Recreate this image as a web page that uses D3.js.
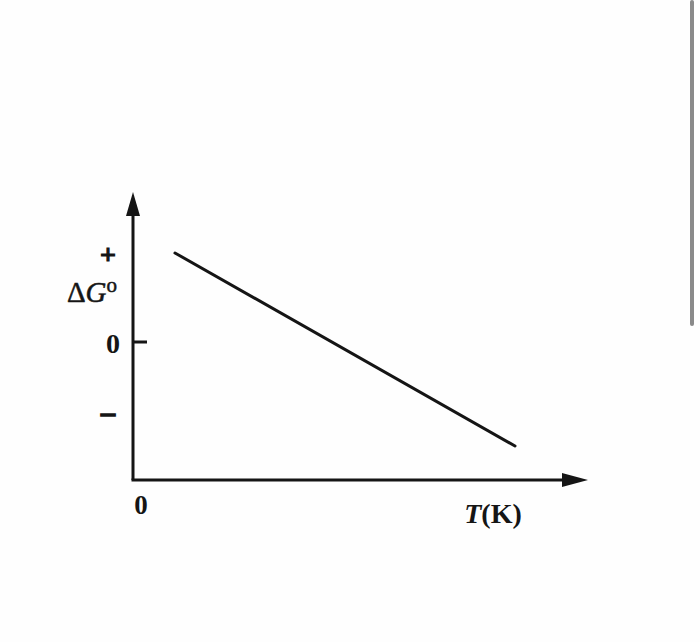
<!DOCTYPE html>
<html><head><meta charset="utf-8">
<script src="https://cdn.jsdelivr.net/npm/d3@7"></script>
<style>html,body{margin:0;padding:0;background:#fff;}svg{display:block;}</style>
</head><body>
<script>
// Data (arbitrary units)
const lineT = [4.2, 38.2];          // temperature at line endpoints
const lineG = [8.9, -10.4];         // ΔG° at line endpoints
const yTickVals = [8.7, 0, -6.9];
const yTickLabels = ["+", "0", "\u2013"];
const xDomain = [0, 45.5];
const yDomain = [-13.8, 15];

const W = 700, H = 642;
const svg = d3.select("body").append("svg").attr("width", W).attr("height", H);
svg.append("rect").attr("width", W).attr("height", H).attr("fill", "#fefefe");

const x = d3.scaleLinear().domain(xDomain).range([133, 588]);
const y = d3.scaleLinear().domain(yDomain).range([480, 192]);
const ink = "#151515";

// gray scrollbar-like bar at right
svg.append("rect").attr("x", 690).attr("y", 0).attr("width", 4).attr("height", 326).attr("rx", 2).attr("fill", "#8a8a8a");

// axes
const x0 = x(0), y0 = y(yDomain[0]);
svg.append("line").attr("x1", x0).attr("y1", y0).attr("x2", x0).attr("y2", y(yDomain[1]) + 12)
  .attr("stroke", ink).attr("stroke-width", 3);
svg.append("line").attr("x1", x0 - 1.5).attr("y1", y0).attr("x2", x(xDomain[1]) - 14).attr("y2", y0)
  .attr("stroke", ink).attr("stroke-width", 3);
// arrowheads
const yt = y(yDomain[1]);
svg.append("path").attr("d", `M${x0},${yt} L${x0-7},${yt+24} L${x0+7},${yt+24} Z`).attr("fill", ink);
const xt = x(xDomain[1]);
svg.append("path").attr("d", `M${xt},${y0} L${xt-26},${y0-7} L${xt-26},${y0+7} Z`).attr("fill", ink);

// tick at zero
svg.append("line").attr("x1", x0).attr("x2", x0 + 14).attr("y1", y(0)).attr("y2", y(0))
  .attr("stroke", ink).attr("stroke-width", 3);

// tick labels on y
const fnt = "'Liberation Serif', 'DejaVu Serif', serif";
const tickX = [108, 113, 108];
const tickDy = [-1, 1, 0];
const tickStroke = [1.2, 0, 1.5];
yTickLabels.forEach((t, i) => {
  svg.append("text").attr("x", tickX[i]).attr("y", y(yTickVals[i]) + tickDy[i])
    .attr("text-anchor", "middle").attr("dominant-baseline", "central")
    .attr("font-family", fnt).attr("font-weight", "bold").attr("font-size", 28)
    .attr("fill", ink).attr("stroke", ink).attr("stroke-width", tickStroke[i]).text(t);
});
// ΔG° label
const lab = svg.append("text").attr("x", 92).attr("y", 302).attr("text-anchor", "middle")
  .attr("font-family", fnt).attr("font-size", 29).attr("fill", ink)
  .attr("stroke", ink).attr("stroke-width", 0.5);
lab.append("tspan").text("\u0394");
lab.append("tspan").attr("font-style", "italic").text("G");
lab.append("tspan").attr("dy", -10).attr("font-size", 21).text("o");

// x labels
svg.append("text").attr("x", 141).attr("y", 505).attr("text-anchor", "middle").attr("dominant-baseline", "central")
  .attr("font-family", fnt).attr("font-weight", "bold").attr("font-size", 27).attr("fill", ink).text("0");
const tl = svg.append("text").attr("x", 493).attr("y", 523).attr("text-anchor", "middle")
  .attr("font-family", fnt).attr("font-weight", "bold").attr("font-size", 28).attr("fill", ink);
tl.append("tspan").attr("font-style", "italic").text("T");
tl.append("tspan").text("(K)");

// data line
const pts = lineT.map((t, i) => [t, lineG[i]]);
svg.append("path").datum(pts)
  .attr("d", d3.line().x(d => x(d[0])).y(d => y(d[1])))
  .attr("stroke", ink).attr("stroke-width", 3).attr("fill", "none").attr("stroke-linecap", "round");
</script>
</body></html>
